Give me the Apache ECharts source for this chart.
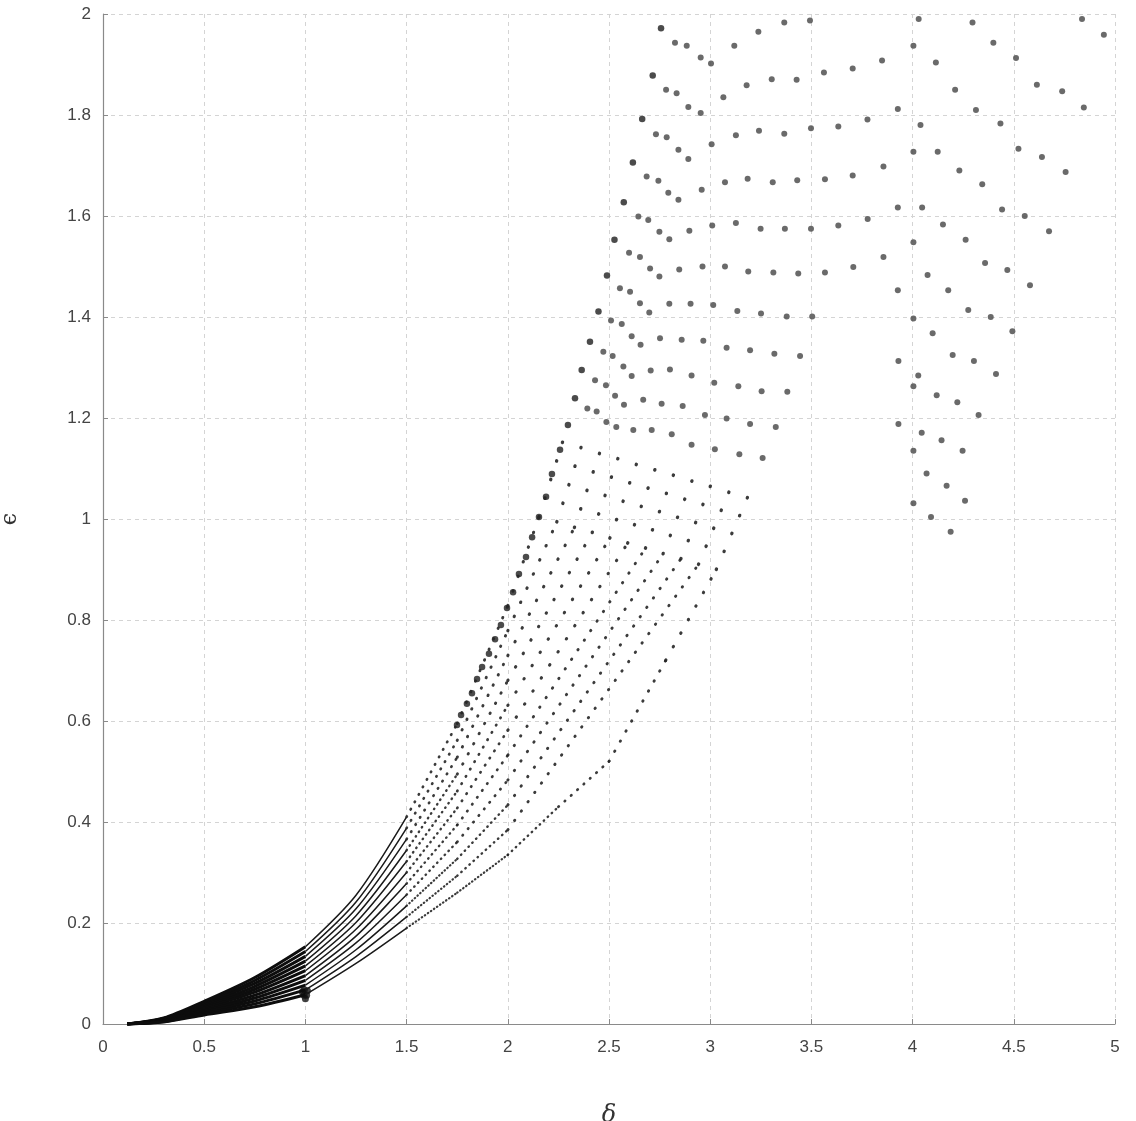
<!DOCTYPE html>
<html><head><meta charset="utf-8">
<script src="https://cdn.jsdelivr.net/npm/echarts@6/dist/echarts.min.js"></script>
<style>html,body{margin:0;padding:0;background:#fff}#c{width:1136px;height:1121px}</style>
</head><body><div id="c"></div>
<script>
// ---- fan of curves: 11 columns (0 = upper-left edge ... 10 = lower-right edge) ----
// y of each column at fixed delta values
const fanX = [0.12, 0.3, 0.5, 0.75, 1.0, 1.25, 1.5, 1.75, 2.0];
const fanY012 = [0,0,0,0,0,0,0,0,0,0,0];
const fanY030 = [.012,.0112,.0104,.0096,.0088,.008,.0072,.0064,.0056,.0048,.004];
const fanY050 = [.045,.0423,.0396,.0369,.0342,.0315,.0288,.0261,.0234,.0207,.018];
const fanY075 = [.092,.0862,.0804,.0746,.0688,.063,.0572,.0514,.0456,.0398,.034];
const fanY100 = [.153,.1435,.134,.1245,.115,.1055,.096,.0865,.077,.0675,.058];
const fanY125 = [.255,.2415,.228,.2145,.201,.1875,.174,.1605,.147,.1335,.12];
const fanY150 = [.41,.388,.366,.344,.322,.30,.278,.256,.234,.212,.19];
const fanY175 = [.595,.5615,.528,.4945,.461,.4275,.394,.3605,.327,.2935,.26];
const fanY200 = [.828,.7787,.7294,.6801,.6308,.5815,.5322,.4829,.4336,.3843,.335];
// extra points on the lower-right edge curve
const edgeLowRight = [[2.25,.43],[2.5,.52],[2.78,.72]];
// upper ends of the columns
const rowE = [[2.154,1.004],[2.242,.994],[2.329,.983],[2.417,.973],[2.504,.962],[2.592,.952],[2.680,.942],[2.767,.931],[2.855,.921],[2.942,.910],[3.03,.90]];
const rowF = [[2.297,1.186],[2.388,1.174],[2.479,1.161],[2.569,1.149],[2.660,1.136],[2.751,1.124],[2.842,1.112],[2.933,1.099],[3.023,1.087],[3.114,1.074],[3.205,1.062]];

// dark dots along the upper-left edge
const edgeDots = [[2.757,1.972],[2.716,1.878],[2.664,1.792],[2.618,1.706],[2.573,1.627],[2.527,1.553],[2.490,1.482],[2.448,1.411],[2.406,1.351],[2.365,1.295],[2.332,1.239],[2.297,1.186],[2.258,1.137],[2.218,1.089],[2.189,1.044],[2.154,1.004],[2.120,0.964],[2.090,0.925],[2.055,0.891],[2.026,0.855],[1.996,0.824],[1.966,0.790],[1.937,0.762],[1.907,0.733],[1.873,0.707],[1.848,0.683],[1.823,0.655],[1.798,0.634],[1.769,0.612],[1.749,0.592]];

// isolated dots in the upper region
const upperDots = [
[2.826,1.943],
[2.782,1.850],[2.834,1.843],
[2.732,1.762],[2.785,1.756],[2.843,1.731],
[2.686,1.678],[2.744,1.670],[2.793,1.646],[2.843,1.632],
[2.645,1.599],[2.694,1.592],[2.749,1.569],[2.798,1.554],
[2.599,1.527],[2.653,1.519],[2.703,1.496],[2.749,1.480],[2.847,1.494],
[2.554,1.457],[2.604,1.450],[2.653,1.427],[2.699,1.409],[2.798,1.426],
[2.510,1.393],[2.563,1.386],[2.612,1.362],[2.656,1.345],[2.752,1.358],
[2.472,1.331],[2.518,1.323],[2.571,1.302],[2.612,1.283],[2.706,1.294],[2.801,1.296],
[2.431,1.275],[2.485,1.265],[2.530,1.244],[2.574,1.226],[2.669,1.236],[2.760,1.228],
[2.393,1.219],[2.439,1.213],[2.487,1.192],[2.536,1.182],[2.620,1.176],[2.711,1.176],[2.810,1.168],
[2.884,1.937],[2.953,1.914],[3.004,1.902],[3.119,1.937],[3.238,1.965],[3.366,1.983],[3.493,1.987],
[2.892,1.816],[2.953,1.804],[3.065,1.835],[3.180,1.859],[3.304,1.871],[3.427,1.870],[3.562,1.884],[3.704,1.892],[3.849,1.908],
[2.892,1.713],[3.007,1.742],[3.127,1.760],[3.241,1.769],[3.366,1.763],[3.498,1.774],[3.633,1.777],[3.777,1.791],
[2.958,1.652],[3.073,1.667],[3.185,1.674],[3.309,1.667],[3.430,1.671],[3.567,1.673],[3.704,1.680],[3.856,1.698],
[2.897,1.571],[3.010,1.581],[3.127,1.586],[3.249,1.575],[3.369,1.575],[3.498,1.575],[3.633,1.581],[3.778,1.594],
[2.962,1.500],[3.073,1.500],[3.188,1.490],[3.312,1.488],[3.435,1.486],[3.567,1.488],[3.707,1.499],[3.856,1.519],
[2.903,1.426],[3.015,1.424],[3.134,1.412],[3.251,1.407],[3.378,1.401],[3.504,1.401],
[2.859,1.355],[2.966,1.353],[3.081,1.339],[3.197,1.334],[3.317,1.327],[3.444,1.323],
[2.908,1.284],[3.020,1.270],[3.139,1.263],[3.254,1.253],[3.381,1.252],
[2.864,1.224],[2.974,1.206],[3.081,1.199],[3.197,1.188],[3.324,1.182],
[2.908,1.147],[3.023,1.138],[3.144,1.128],[3.259,1.121],
[4.030,1.990],[4.004,1.937],[4.296,1.983],[4.399,1.943],[4.511,1.913],[4.837,1.990],[4.945,1.959],
[4.115,1.904],[4.210,1.850],[4.614,1.860],[4.739,1.847],[4.846,1.815],
[3.927,1.812],[4.313,1.810],[4.039,1.780],[4.434,1.783],
[4.004,1.727],[4.124,1.727],[4.231,1.690],[4.344,1.663],[4.523,1.733],[4.639,1.717],[4.756,1.687],
[3.927,1.617],[4.047,1.617],[4.004,1.548],[4.150,1.583],[4.262,1.553],[4.442,1.613],[4.554,1.600],[4.674,1.570],
[3.927,1.453],[4.176,1.453],[4.074,1.483],[4.358,1.507],[4.468,1.493],[4.580,1.463],
[4.275,1.414],[4.386,1.400],[4.004,1.397],[4.493,1.372],[4.099,1.368],
[3.930,1.313],[4.198,1.325],[4.303,1.313],[4.028,1.284],[4.412,1.287],
[4.004,1.263],[4.119,1.245],[4.221,1.231],[4.326,1.206],
[3.930,1.188],[4.045,1.171],[4.143,1.156],[4.004,1.135],[4.247,1.135],
[4.069,1.090],[4.168,1.066],[4.259,1.036],[4.004,1.031],[4.091,1.004],[4.188,0.975]
];

// small dark cusp near delta = 1
const cuspDots = [[0.985,0.064],[0.993,0.057],[1.0,0.05],[1.006,0.057],[0.995,0.068],[1.01,0.066]];

// ---- build series ----
const fanYs = [fanY012, fanY030, fanY050, fanY075, fanY100, fanY125, fanY150, fanY175, fanY200];
const series = [];
const nCols = rowE.length;
function dotStyle(meanY) {
  if (meanY < 0.3) return {w: 2.2, gap: 3.2};
  if (meanY < 0.42) return {w: 2.4, gap: 5};
  if (meanY < 0.55) return {w: 2.7, gap: 8};
  if (meanY < 0.75) return {w: 2.9, gap: 11};
  if (meanY < 0.95) return {w: 3.1, gap: 15};
  return {w: 3.3, gap: 19};
}
for (let j = 0; j < nCols; j++) {
  const pts = fanX.map((x, i) => [x, fanYs[i][j]]);
  if (j === nCols - 1) edgeLowRight.forEach(p => pts.push(p));
  if (rowE[j][0] > pts[pts.length - 1][0]) pts.push(rowE[j]);
  pts.push(rowF[j]);
  // dense solid part (delta <= 1)
  series.push({
    type: 'line', data: pts.slice(0, 5), showSymbol: false, smooth: 0.3, silent: true,
    lineStyle: {color: '#0d0d0d', width: 3}
  });
  // thinner continuous part (1 <= delta <= 1.5)
  series.push({
    type: 'line', data: pts.slice(4, 7), showSymbol: false, smooth: 0.3, silent: true,
    lineStyle: {color: '#1a1a1a', width: 1.5}
  });
  // dotted parts, wider spacing higher up
  for (let k = 6; k < pts.length - 1; k++) {
    const st = dotStyle((pts[k][1] + pts[k + 1][1]) / 2);
    series.push({
      type: 'line', data: [pts[k], pts[k + 1]], showSymbol: false, silent: true,
      lineStyle: {color: '#262626', width: st.w, type: [0.5, st.gap], cap: 'round', opacity: 0.9}
    });
  }
}
series.push({type: 'scatter', data: upperDots, symbolSize: 6, silent: true,
  itemStyle: {color: '#505050', opacity: 0.85}});
series.push({type: 'scatter', data: edgeDots, symbolSize: 6.5, silent: true,
  itemStyle: {color: '#1e1e1e'}});
series.push({type: 'scatter', data: cuspDots, symbolSize: 7, silent: true,
  itemStyle: {color: '#111'}});

const chart = echarts.init(document.getElementById('c'), null, {renderer: 'canvas'});
const axisFont = {color: '#444', fontSize: 17, fontFamily: 'Liberation Sans, Arial, sans-serif'};
chart.setOption({
  animation: false,
  backgroundColor: '#fff',
  grid: {left: 103, right: 21, top: 14, bottom: 97, containLabel: false, outerBoundsMode: 'none'},
  xAxis: {
    type: 'value', min: 0, max: 5, interval: 0.5,
    name: 'δ', nameLocation: 'middle', nameGap: 80,
    nameTextStyle: {fontSize: 24, color: '#333', fontStyle: 'italic', fontFamily: 'DejaVu Serif, serif'},
    axisLine: {show: true, lineStyle: {color: '#8a8a8a', width: 1.2}},
    axisTick: {show: true, inside: true, length: 5, lineStyle: {color: '#8a8a8a'}},
    axisLabel: Object.assign({margin: 15}, axisFont),
    splitLine: {show: true, lineStyle: {color: '#d4d4d4', type: [4, 4], width: 1}}
  },
  yAxis: {
    type: 'value', min: 0, max: 2, interval: 0.2,
    name: 'ϵ', nameLocation: 'middle', nameGap: 82, nameRotate: 90,
    nameTextStyle: {fontSize: 22, color: '#333', fontFamily: 'DejaVu Serif, serif'},
    axisLine: {show: true, lineStyle: {color: '#8a8a8a', width: 1.2}},
    axisTick: {show: true, inside: true, length: 5, lineStyle: {color: '#8a8a8a'}},
    axisLabel: Object.assign({margin: 12}, axisFont),
    splitLine: {show: true, lineStyle: {color: '#d4d4d4', type: [4, 4], width: 1}}
  },
  series: series
});
</script>
</body></html>
